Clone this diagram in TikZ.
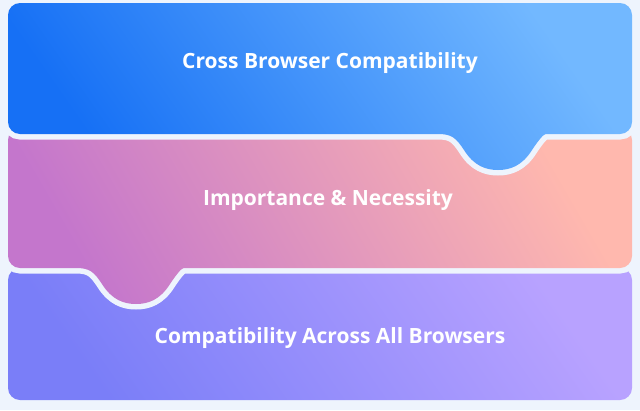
\documentclass[tikz,border=0pt]{standalone}
\usepackage{fontspec}
\setmainfont{Open Sans}
\begin{document}
\begin{tikzpicture}[x=1pt,y=-1pt]
\definecolor{bg}{HTML}{EEF4FD}
\definecolor{b1}{HTML}{1670F5}\definecolor{b2}{HTML}{72B8FF}
\definecolor{p1}{HTML}{C476CC}\definecolor{pm}{HTML}{EA80A2}\definecolor{p2}{HTML}{FFB8AE}
\definecolor{v1}{HTML}{7A7EF8}\definecolor{v2}{HTML}{B8A2FF}
\tikzset{lbl/.style={text=white,font=\bfseries\fontsize{21}{24}\selectfont}}
\fill[bg] (0,0) rectangle (640,410);
\useasboundingbox (0,0) rectangle (640,410);
% panel 3
\path[rounded corners=12,left color=v1,right color=v2,shading angle=125]
  (8,268) -- (632,268) -- (632,400) -- (8,400) -- cycle;
% panel 2
\def\ptwo{[rounded corners=12] (8,128) -- (632,128) -- (632,268) -- (196,268) [sharp corners] .. controls (182,268) and (178,272) .. (170,284) .. controls (160,300) and (148,304) .. (136,304) .. controls (124,304) and (112,300) .. (102,284) .. controls (94,272) and (90,268) .. (76,268) [rounded corners=12] -- (8,268) -- cycle}
\draw[bg,line width=11] \ptwo;
\path[left color=p1,middle color=pm,right color=p2,shading angle=120] \ptwo;
% panel 1
\def\pone{[rounded corners=12] (8,3) -- (632,3) -- (632,134) -- (558,134) [sharp corners] .. controls (544,134) and (540,138) .. (532,150) .. controls (522,166) and (510,170) .. (498,170) .. controls (486,170) and (474,166) .. (464,150) .. controls (456,138) and (452,134) .. (438,134) [rounded corners=12] -- (8,134) -- cycle}
\draw[bg,line width=11] \pone;
\path[left color=b1,right color=b2,shading angle=125] \pone;
\node[lbl] (t1) at (330,63) {Cross Browser Compatibility};
\node[lbl] (t2) at (328,200) {Importance \& Necessity};
\node[lbl] (t3) at (330,338) {Compatibility Across All Browsers};
\end{tikzpicture}
\end{document}
